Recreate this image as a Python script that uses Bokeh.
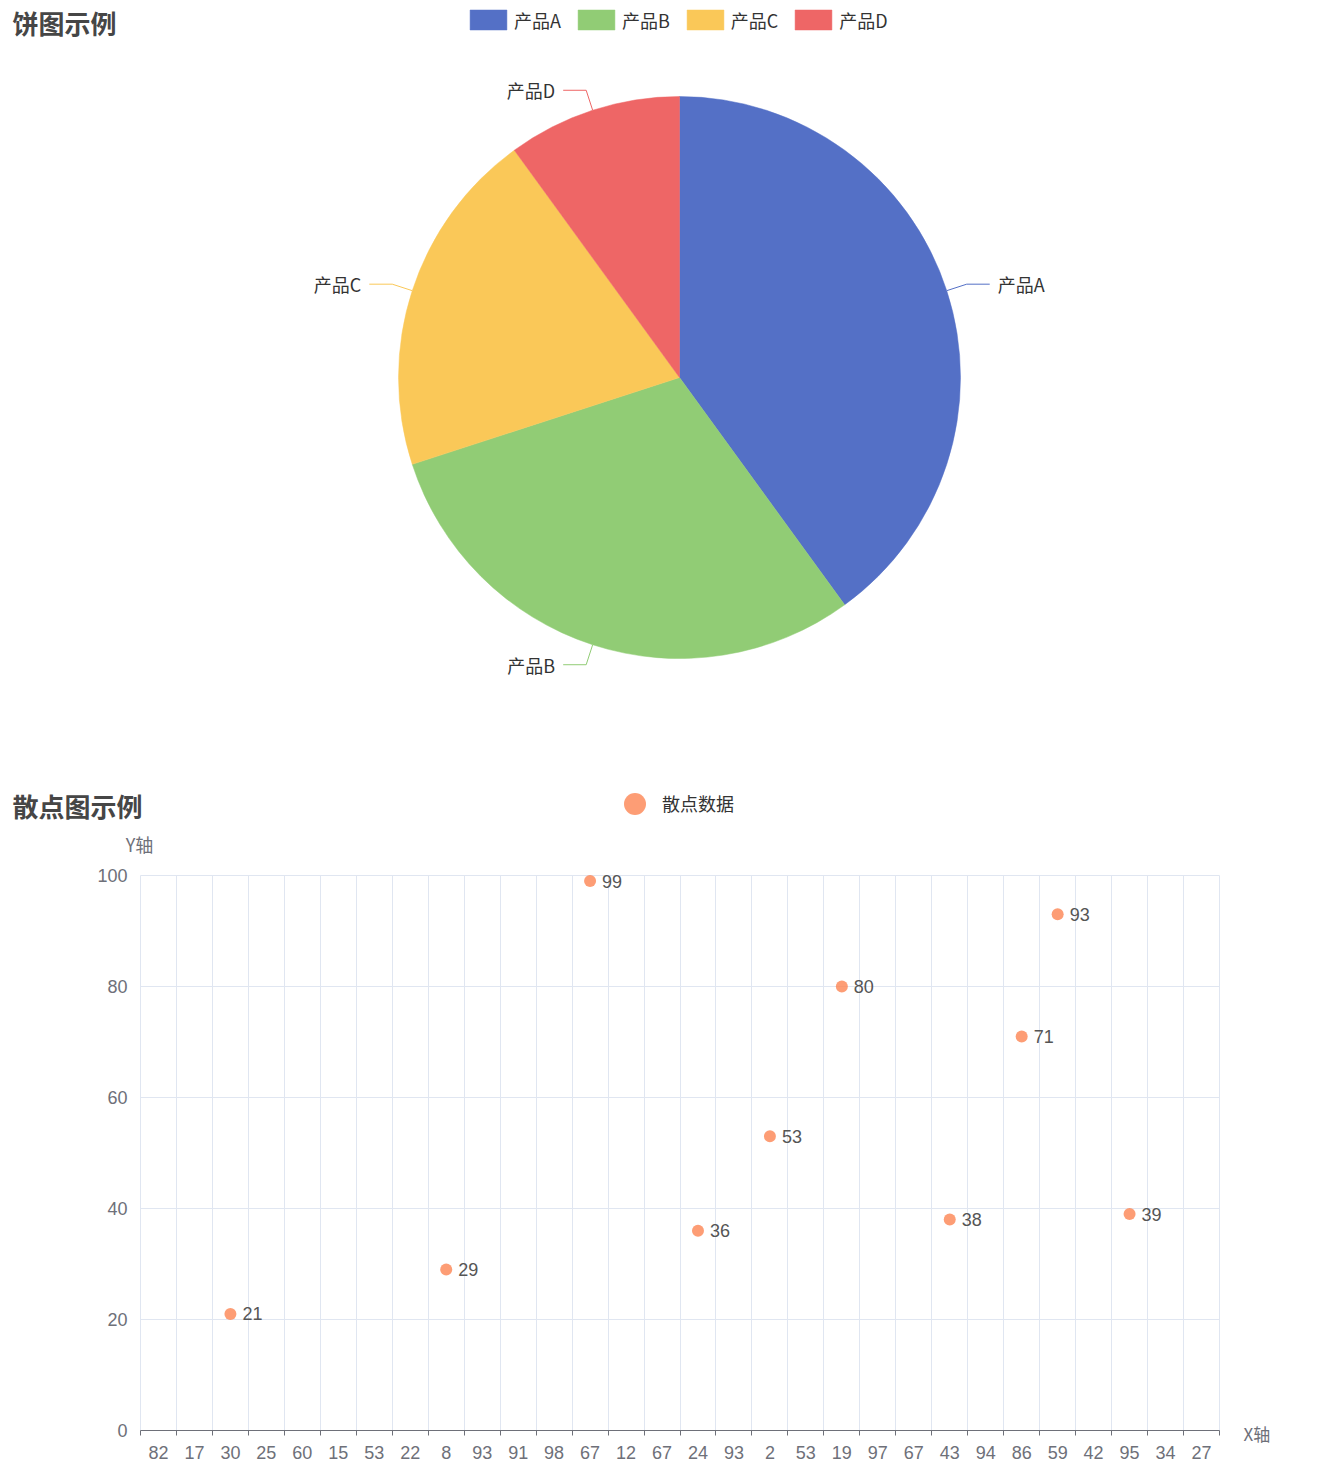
import math
from bokeh.plotting import figure
from bokeh.models import (Range1d, FixedTicker, Label, Legend, LegendItem, ColumnDataSource,
                          LinearAxis, Grid)
from bokeh.core.properties import value
from bokeh.embed import file_html
from bokeh.resources import INLINE

# ---------------- data ----------------
pie_names = ["产品A", "产品B", "产品C", "产品D"]
pie_values = [40, 30, 20, 10]
pie_colors = ["#5470c6", "#91cc75", "#fac858", "#ee6666"]

x_labels = ["82", "17", "30", "25", "60", "15", "53", "22", "8", "93",
            "91", "98", "67", "12", "67", "24", "93", "2", "53", "19",
            "97", "67", "43", "94", "86", "59", "42", "95", "34", "27"]
point_index = [2, 8, 12, 15, 17, 19, 22, 24, 25, 27]
point_values = [21, 29, 99, 36, 53, 80, 38, 71, 93, 39]
y_ticks = [0, 20, 40, 60, 80, 100]
scatter_color = "#fc8452"

CJK = "Noto Sans CJK SC"
NUM = "Liberation Sans"
AXIS_C = "#6E7079"
GRID_C = "#E0E6F1"

# ---------------- layout constants (page pixels) ----------------
W, H = 1306, 1470
GX0, GX1 = 140, 1219        # scatter grid left/right
GY0, GY1 = 875, 1430        # scatter grid top/bottom
n = len(x_labels)
ymax = max(y_ticks)
sx = (GX1 - GX0) / n
sy = (GY1 - GY0) / ymax

p = figure(width=W, height=H, x_axis_type=None, y_axis_type=None, title=None, min_border=0,
           x_range=Range1d(-GX0 / sx, (W - GX0) / sx),
           y_range=Range1d(-(H - GY1) / sy, GY1 / sy),
           output_backend="svg", toolbar_location=None)
p.outline_line_color = None
# pixel ranges for the pie part (y measured upward from bottom of canvas)
p.extra_x_ranges = {"px": Range1d(0, W)}
p.extra_y_ranges = {"py": Range1d(0, H)}

# ---------------- pie ----------------
cx, cy, R = 679, H - 377, 281
total = float(sum(pie_values))
starts, ends = [], []
cum = 0.0
for v in pie_values:
    a0 = math.pi / 2 - cum / total * 2 * math.pi
    cum += v
    a1 = math.pi / 2 - cum / total * 2 * math.pi
    starts.append(a0)
    ends.append(a1)

wsrc = ColumnDataSource(dict(start=starts, end=ends, color=pie_colors, name=pie_names))
wr = p.wedge(x=cx, y=cy, radius=R, radius_units="screen", start_angle="start", end_angle="end",
             direction="clock", fill_color="color", line_color="color", line_width=0.5,
             source=wsrc, x_range_name="px", y_range_name="py")

lx, ly, tx, ty, ta = [], [], [], [], []
for a0, a1 in zip(starts, ends):
    m = (a0 + a1) / 2
    ex, ey = cx + R * math.cos(m), cy + R * math.sin(m)
    rx, ry = cx + (R + 21) * math.cos(m), cy + (R + 21) * math.sin(m)
    s = 1 if math.cos(m) >= 0 else -1
    hx = rx + s * 23
    lx.append([ex, rx, hx])
    ly.append([ey, ry, ry])
    tx.append(hx + s * 8)
    ty.append(ry)
    ta.append("left" if s > 0 else "right")

p.multi_line(xs=lx, ys=ly, line_color=pie_colors, line_width=1, x_range_name="px", y_range_name="py")
p.text(x=tx, y=ty, text=pie_names, text_align=ta, text_baseline="middle",
       text_font=value(CJK), text_font_size=value("18px"), text_color="#333333",
       x_range_name="px", y_range_name="py")

p.add_layout(Label(x=12, y=H - 22, x_units="screen", y_units="screen", text="饼图示例",
                   text_font=CJK, text_font_size="26px", text_font_style="bold",
                   text_color="#464646", text_baseline="middle"))

pie_legend = Legend(items=[LegendItem(label=nm, renderers=[wr], index=i) for i, nm in enumerate(pie_names)],
                    orientation="horizontal", location=(465, H - 32.5),
                    glyph_width=46, glyph_height=25, label_height=25, label_standoff=3, spacing=12,
                    padding=0, margin=0, border_line_color=None, background_fill_alpha=0,
                    label_text_font=CJK, label_text_font_size="18px", label_text_color="#333333")
p.add_layout(pie_legend)

# ---------------- scatter ----------------
centers = [i + 0.5 for i in range(n)]
bounds = list(range(n + 1))

p.add_layout(Grid(dimension=0, ticker=FixedTicker(ticks=bounds), cross_bounds=(0, ymax),
                  grid_line_color=GRID_C))
p.add_layout(Grid(dimension=1, ticker=FixedTicker(ticks=y_ticks), cross_bounds=(0, n),
                  grid_line_color=GRID_C))

xa = LinearAxis(fixed_location=0, bounds=(0, n),
                ticker=FixedTicker(ticks=centers, minor_ticks=bounds),
                major_label_overrides={c: lab for c, lab in zip(centers, x_labels)},
                major_tick_line_color=None, major_tick_out=0, major_tick_in=0,
                minor_tick_line_color=AXIS_C, minor_tick_out=5, minor_tick_in=0,
                axis_line_color=AXIS_C, major_label_text_color=AXIS_C,
                major_label_text_font=NUM, major_label_text_font_size="18px",
                major_label_standoff=10)
p.add_layout(xa, "below")

ya = LinearAxis(fixed_location=0, bounds=(0, ymax), ticker=FixedTicker(ticks=y_ticks),
                axis_line_color=None, major_tick_line_color=None, minor_tick_line_color=None,
                major_tick_out=0, major_tick_in=0, major_label_text_color=AXIS_C,
                major_label_text_font=NUM, major_label_text_font_size="18px",
                major_label_standoff=13)
p.add_layout(ya, "left")

ssrc = ColumnDataSource(dict(x=[i + 0.5 for i in point_index], y=point_values,
                             t=[str(v) for v in point_values]))
sr = p.scatter(x="x", y="y", size=12, fill_color=scatter_color, fill_alpha=0.8,
               line_color=None, source=ssrc)
p.text(x="x", y="y", text="t", x_offset=12, text_baseline="middle", text_align="left",
       text_font=value(NUM), text_font_size=value("18px"), text_color="#555555", source=ssrc)

p.add_layout(Label(x=12, y=H - 805, x_units="screen", y_units="screen", text="散点图示例",
                   text_font=CJK, text_font_size="26px", text_font_style="bold",
                   text_color="#464646", text_baseline="middle"))
p.add_layout(Label(x=GX0 - 1, y=H - 843, x_units="screen", y_units="screen", text="Y轴",
                   text_font=CJK, text_font_size="18px", text_color=AXIS_C,
                   text_align="center", text_baseline="middle"))
p.add_layout(Label(x=1243, y=H - 1433, x_units="screen", y_units="screen", text="X轴",
                   text_font=CJK, text_font_size="17px", text_color=AXIS_C,
                   text_align="left", text_baseline="middle"))

sc_legend = Legend(items=[LegendItem(label="散点数据", renderers=[sr])],
                   orientation="horizontal", location=(607, H - 830.5),
                   glyph_width=55, glyph_height=55, label_height=55, label_standoff=0,
                   padding=0, margin=0, border_line_color=None, background_fill_alpha=0,
                   label_text_font=CJK, label_text_font_size="18px", label_text_color="#333333")
p.add_layout(sc_legend)

open("out.html", "w").write(file_html(p, INLINE))
